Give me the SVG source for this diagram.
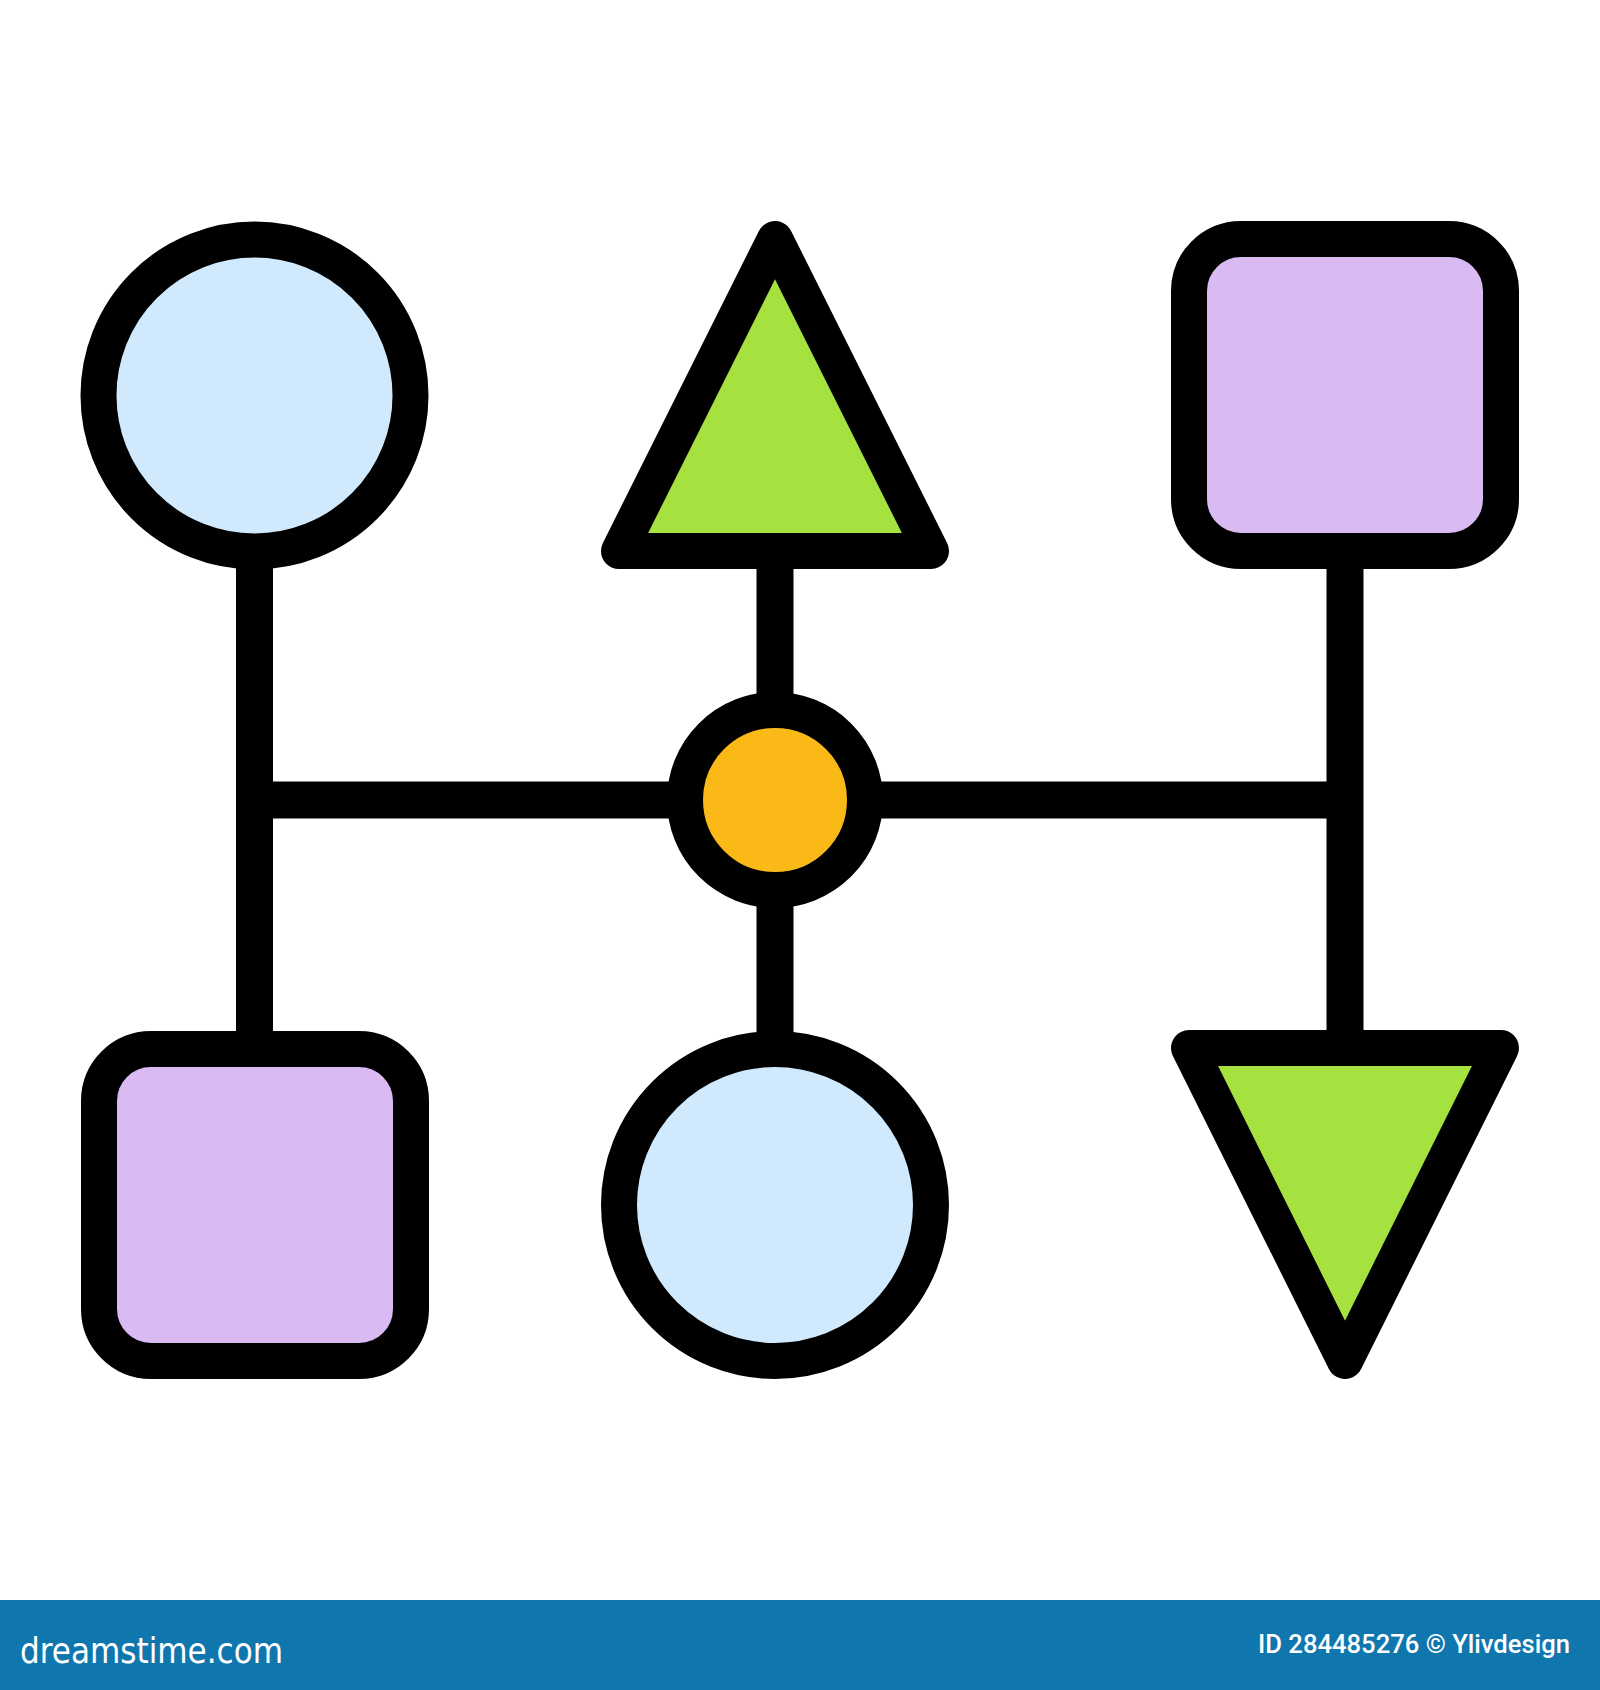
<svg xmlns="http://www.w3.org/2000/svg" width="1600" height="1690" viewBox="0 0 1600 1690">
<style>
.s{stroke:#000;stroke-width:36;stroke-linejoin:round;stroke-linecap:butt}
.c{fill:none;stroke:#000;stroke-width:37}
.blue{fill:#D0E9FC}
.purple{fill:#D9BAF2}
.green{fill:#A6E23F}
.orange{fill:#FBB918}
.wm{fill:#fff;font-family:"Liberation Sans",Arial,sans-serif}
</style>
<rect width="1600" height="1690" fill="#fff"/>
<g id="connectors">
<line class="c" x1="254.5" y1="540" x2="254.5" y2="1060"/>
<line class="c" x1="254.5" y1="800" x2="1345" y2="800"/>
<line class="c" x1="1345" y1="540" x2="1345" y2="1060"/>
<line class="c" x1="775" y1="540" x2="775" y2="1060"/>
</g>
<g id="circle-top-left"><circle class="s blue" cx="254.5" cy="395.5" r="156"/></g>
<g id="triangle-up"><polygon class="s green" points="775,239 931,551 619,551"/></g>
<g id="square-top-right"><rect class="s purple" x="1189" y="239" width="312" height="312" rx="52"/></g>
<g id="hub"><circle class="s orange" cx="775" cy="800" r="90"/></g>
<g id="square-bottom-left"><rect class="s purple" x="99" y="1049" width="312" height="312" rx="52"/></g>
<g id="circle-bottom"><circle class="s blue" cx="775" cy="1205" r="156"/></g>
<g id="triangle-down"><polygon class="s green" points="1189,1048 1501,1048 1345,1361"/></g>
<g id="footer">
<rect x="0" y="1600" width="1600" height="90" fill="#1077AE"/>
<text class="wm" x="20" y="1663" font-size="35" textLength="263" lengthAdjust="spacingAndGlyphs" style="font-family:'DejaVu Sans','Liberation Sans',sans-serif">dreamstime.com</text>
<text class="wm" x="1258" y="1653" font-size="25" font-weight="500" textLength="312" lengthAdjust="spacingAndGlyphs" style="font-family:Roboto,'Liberation Sans',sans-serif">ID 284485276 © Ylivdesign</text>
</g>
</svg>
